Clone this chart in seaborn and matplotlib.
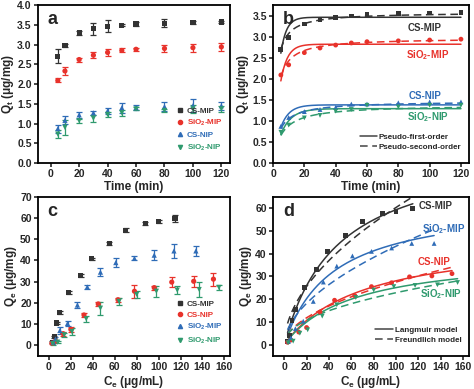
import numpy as np
import pandas as pd
import matplotlib
matplotlib.use("Agg")
import matplotlib.pyplot as plt
from matplotlib.lines import Line2D
import seaborn as sns

# ---- datos cinéticos (paneles a y b) ----
t = [5, 10, 20, 30, 40, 50, 60, 80, 100, 120]
cs_mip = [2.70, 2.98, 3.30, 3.40, 3.46, 3.49, 3.52, 3.54, 3.56, 3.57]
cs_mip_err = [0.18, 0.03, 0.05, 0.15, 0.15, 0.03, 0.05, 0.10, 0.03, 0.02]
sio2_mip = [2.09, 2.33, 2.62, 2.73, 2.80, 2.85, 2.88, 2.90, 2.92, 2.94]
sio2_mip_err = [0.05, 0.10, 0.05, 0.07, 0.08, 0.05, 0.04, 0.10, 0.10, 0.10]
cs_nip = [0.87, 1.08, 1.22, 1.27, 1.32, 1.40, 1.40, 1.43, 1.45, 1.45]
cs_nip_err = [0.10, 0.10, 0.08, 0.05, 0.08, 0.13, 0.06, 0.12, 0.17, 0.10]
sio2_nip = [0.73, 0.90, 1.07, 1.13, 1.23, 1.27, 1.37, 1.33, 1.37, 1.37]
sio2_nip_err = [0.10, 0.18, 0.05, 0.08, 0.07, 0.07, 0.04, 0.05, 0.10, 0.08]

# parámetros de ajuste (qe, k)
pfo = {'CS-MIP': (3.46, 0.28), 'SiO2-MIP': (2.82, 0.235),
       'CS-NIP': (1.38, 0.19), 'SiO2-NIP': (1.29, 0.15)}
pso = {'CS-MIP': (3.58, 0.17), 'SiO2-MIP': (2.97, 0.15),
       'CS-NIP': (1.47, 0.17), 'SiO2-NIP': (1.38, 0.13)}

# ---- datos de isotermas (paneles c y d) ----
ce_csmip = [3, 5, 7, 10, 18, 29, 39, 55, 70, 88, 100, 115]
qe_csmip = [1.5, 4.0, 10.5, 15.5, 25.0, 33.0, 40.8, 48.0, 54.3, 57.5, 58.5, 59.8]
qe_csmip_err = [0.5, 0.5, 0.6, 0.6, 0.8, 0.6, 0.6, 0.8, 1.0, 0.6, 0.8, 1.5]
ce_csnip = [3, 6, 13, 20, 32, 45, 63, 78, 96, 112, 132, 150]
qe_csnip = [1.0, 2.0, 5.5, 7.5, 14.3, 19.5, 21.5, 25.5, 27.2, 29.8, 30.2, 31.2]
qe_csnip_err = [0.5, 0.5, 1.0, 1.0, 1.0, 1.0, 1.0, 3.0, 1.0, 2.5, 2.5, 3.0]
ce_siomip = [4, 6, 10, 17, 26, 35, 47, 61, 78, 96, 114, 134]
qe_siomip = [1.5, 3.0, 7.0, 10.3, 19.0, 27.5, 34.5, 39.0, 41.0, 42.5, 44.5, 44.5]
qe_siomip_err = [0.5, 1.0, 1.5, 1.0, 1.5, 1.0, 2.0, 2.0, 1.0, 2.5, 3.3, 2.5]
ce_sionip = [3.5, 8, 14, 21, 34, 47, 64, 80, 98, 117, 137, 155]
qe_sionip = [0.8, 1.5, 5.0, 6.5, 12.5, 17.5, 20.7, 24.0, 25.5, 26.0, 26.3, 27.3]
qe_sionip_err = [0.5, 0.5, 1.0, 1.5, 1.5, 3.0, 1.5, 1.5, 2.5, 2.0, 3.5, 1.0]

# parámetros Langmuir (qm, KL) y Freundlich (KF, 1/n), rango de Ce
langmuir = {'CS-MIP': (87.6, 0.021), 'SiO2-MIP': (63.2, 0.0235),
            'CS-NIP': (47.7, 0.0143), 'SiO2-NIP': (40.5, 0.01625)}
freundlich = {'CS-MIP': (5.16, 0.534), 'SiO2-MIP': (3.6, 0.54),
              'CS-NIP': (2.44, 0.526), 'SiO2-NIP': (2.67, 0.466)}
ce_max = {'CS-MIP': 115, 'SiO2-MIP': 134, 'CS-NIP': 150, 'SiO2-NIP': 155}

colores = {'CS-MIP': '#333333', 'SiO2-MIP': '#e8322b',
           'CS-NIP': '#2f6cb7', 'SiO2-NIP': '#2f9a6e'}
marcadores = {'CS-MIP': 's', 'SiO2-MIP': 'o', 'CS-NIP': '^', 'SiO2-NIP': 'v'}
etiquetas = {'CS-MIP': 'CS-MIP', 'SiO2-MIP': 'SiO$_2$-MIP',
             'CS-NIP': 'CS-NIP', 'SiO2-NIP': 'SiO$_2$-NIP'}

sns.set_style("ticks")
plt.rcParams['font.family'] = ['Liberation Sans', 'DejaVu Sans']
plt.rcParams['font.weight'] = 'bold'
plt.rcParams['axes.labelweight'] = 'bold'
plt.rcParams['mathtext.fontset'] = 'custom'
plt.rcParams['mathtext.rm'] = 'Liberation Sans:bold'
plt.rcParams['mathtext.it'] = 'Liberation Sans:bold'
plt.rcParams['mathtext.bf'] = 'Liberation Sans:bold'

cin = pd.DataFrame({
    't': t * 4,
    'Q': cs_mip + sio2_mip + cs_nip + sio2_nip,
    'err': cs_mip_err + sio2_mip_err + cs_nip_err + sio2_nip_err,
    'serie': ['CS-MIP'] * 10 + ['SiO2-MIP'] * 10 + ['CS-NIP'] * 10 + ['SiO2-NIP'] * 10,
})
iso = pd.DataFrame({
    'Ce': ce_csmip + ce_csnip + ce_siomip + ce_sionip,
    'Q': qe_csmip + qe_csnip + qe_siomip + qe_sionip,
    'err': qe_csmip_err + qe_csnip_err + qe_siomip_err + qe_sionip_err,
    'serie': ['CS-MIP'] * 12 + ['CS-NIP'] * 12 + ['SiO2-MIP'] * 12 + ['SiO2-NIP'] * 12,
})
# en c y d el rojo es CS-NIP y el azul SiO2-MIP
colores_iso = {'CS-MIP': '#333333', 'CS-NIP': '#e8322b',
               'SiO2-MIP': '#2f6cb7', 'SiO2-NIP': '#2f9a6e'}
marc_iso = {'CS-MIP': 's', 'CS-NIP': 'o', 'SiO2-MIP': '^', 'SiO2-NIP': 'v'}

fig = plt.figure(figsize=(4.74, 3.89), dpi=100)
ax_a = fig.add_axes([0.080, 0.581, 0.405, 0.406])
ax_b = fig.add_axes([0.576, 0.581, 0.413, 0.406])
ax_c = fig.add_axes([0.080, 0.085, 0.405, 0.409])
ax_d = fig.add_axes([0.576, 0.085, 0.413, 0.409])


def puntos(ax, df, xcol, cols, mk, err=True, ms=14):
    for s in cols:
        d = df[df['serie'] == s]
        if err:
            ax.errorbar(d[xcol], d['Q'], yerr=d['err'], fmt='none',
                        ecolor=cols[s], elinewidth=0.9, capsize=2.0, capthick=0.9, zorder=2)
    sns.scatterplot(data=df, x=xcol, y='Q', hue='serie', style='serie',
                    palette=cols, markers=mk, hue_order=list(cols),
                    style_order=list(cols), s=ms, linewidth=0, ax=ax,
                    legend=False, zorder=3)


def estilo(ax, xlim, ylim, xticks, yticks, xlabel, ylabel, letra, yfmt=None):
    ax.set_xlim(*xlim)
    ax.set_ylim(*ylim)
    ax.set_xticks(xticks)
    ax.set_yticks(yticks)
    if yfmt:
        ax.set_yticklabels([yfmt.format(v) for v in yticks])
    ax.set_xlabel(xlabel, fontsize=8.5, labelpad=1)
    ax.set_ylabel(ylabel, fontsize=8.5, labelpad=1)
    ax.tick_params(labelsize=7.5, width=1.2, length=3, pad=1.5)
    for sp in ax.spines.values():
        sp.set_visible(True)
        sp.set_linewidth(1.3)
        sp.set_color('black')
    ax.text(0.05, 0.96, letra, transform=ax.transAxes, fontsize=13,
            fontweight='bold', va='top', ha='left')


def leyenda_marcas(ax, cols, mk):
    h = [Line2D([], [], ls='none', marker=mk[s], color=cols[s], ms=3) for s in cols]
    leg = ax.legend(h, [etiquetas[s] for s in cols], loc='lower right',
                    bbox_to_anchor=(0.99, 0.03), frameon=False, fontsize=5.8,
                    handletextpad=0.1, labelspacing=0.4, handlelength=1.4,
                    borderpad=0.2)
    for txt, s in zip(leg.get_texts(), cols):
        txt.set_color(cols[s])


def leyenda_lineas(ax, l1, l2):
    h = [Line2D([], [], color='#444444', lw=1.1),
         Line2D([], [], color='#444444', lw=1.1, ls=(0, (5, 3)))]
    ax.legend(h, [l1, l2], loc='lower right', bbox_to_anchor=(1.0, 0.03),
              frameon=False, fontsize=5.8, handletextpad=0.2,
              labelspacing=0.3, handlelength=2.2)


# ---- a ----
puntos(ax_a, cin, 't', colores, marcadores)
estilo(ax_a, (-9, 126), (0, 4.0), [0, 20, 40, 60, 80, 100, 120],
       np.arange(0, 4.01, 0.5), 'Time (min)', 'Q$_t$ (μg/mg)', 'a', '{:.1f}')
leyenda_marcas(ax_a, colores, marcadores)

# ---- b ----
puntos(ax_b, cin, 't', colores, marcadores, err=False, ms=12)
tt = np.linspace(5, 120, 200)
filas = []
for s in colores:
    qe, k = pfo[s]
    filas.append(pd.DataFrame({'t': tt, 'Q': qe * (1 - np.exp(-k * tt)), 'serie': s}))
curva1 = pd.concat(filas)
filas = []
for s in colores:
    qe, k = pso[s]
    filas.append(pd.DataFrame({'t': tt, 'Q': qe ** 2 * k * tt / (1 + qe * k * tt), 'serie': s}))
curva2 = pd.concat(filas)
sns.lineplot(data=curva1, x='t', y='Q', hue='serie', palette=colores,
             lw=1.1, legend=False, ax=ax_b, estimator=None, sort=False)
sns.lineplot(data=curva2, x='t', y='Q', hue='serie', palette=colores,
             lw=1.1, legend=False, ax=ax_b, estimator=None, sort=False)
for l in ax_b.lines[4:]:
    l.set_linestyle((0, (5, 3)))
estilo(ax_b, (0, 125), (0, 3.75), [0, 20, 40, 60, 80, 100, 120],
       np.arange(0, 3.51, 0.5), 'Time (min)', 'Q$_t$ (μg/mg)', 'b', '{:.1f}')
pos_b = {'CS-MIP': (97, 3.2), 'SiO2-MIP': (99, 2.55), 'CS-NIP': (97, 1.6), 'SiO2-NIP': (99, 1.1)}
for s, (x, y) in pos_b.items():
    ax_b.text(x, y, etiquetas[s], color=colores[s], fontsize=7,
              fontweight='bold', ha='center', va='center')
leyenda_lineas(ax_b, 'Pseudo-first-order', 'Pseudo-second-order')

# ---- c ----
puntos(ax_c, iso, 'Ce', colores_iso, marc_iso)
estilo(ax_c, (-10, 165), (-5, 70), np.arange(0, 161, 20),
       np.arange(0, 71, 10), 'C$_\\mathregular{e}$ (μg/mL)', 'Q$_e$ (μg/mg)', 'c')
leyenda_marcas(ax_c, colores_iso, marc_iso)

# ---- d ----
puntos(ax_d, iso, 'Ce', colores_iso, marc_iso, err=False, ms=12)
filas_l, filas_f = [], []
for s in colores_iso:
    cc = np.linspace(3, ce_max[s], 200)
    qm, kl = langmuir[s]
    kf, n1 = freundlich[s]
    filas_l.append(pd.DataFrame({'Ce': cc, 'Q': qm * kl * cc / (1 + kl * cc), 'serie': s}))
    filas_f.append(pd.DataFrame({'Ce': cc, 'Q': kf * cc ** n1, 'serie': s}))
sns.lineplot(data=pd.concat(filas_l), x='Ce', y='Q', hue='serie', palette=colores_iso,
             lw=1.1, legend=False, ax=ax_d, estimator=None, sort=False)
sns.lineplot(data=pd.concat(filas_f), x='Ce', y='Q', hue='serie', palette=colores_iso,
             lw=1.1, legend=False, ax=ax_d, estimator=None, sort=False)
for l in ax_d.lines[4:]:
    l.set_linestyle((0, (5, 3)))
estilo(ax_d, (-10, 165), (-5, 65), np.arange(0, 161, 20),
       np.arange(0, 61, 10), 'C$_\\mathregular{e}$ (μg/mL)', 'Q$_e$ (μg/mg)', 'd')
pos_d = {'CS-MIP': (120, 61), 'SiO2-MIP': (123, 51), 'CS-NIP': (119, 36.5), 'SiO2-NIP': (121, 22)}
for s, (x, y) in pos_d.items():
    ax_d.text(x, y, etiquetas[s], color=colores_iso[s], fontsize=7,
              fontweight='bold', ha='left', va='center')
leyenda_lineas(ax_d, 'Langmuir model', 'Freundlich model')

fig.savefig('out.png', dpi=100)
